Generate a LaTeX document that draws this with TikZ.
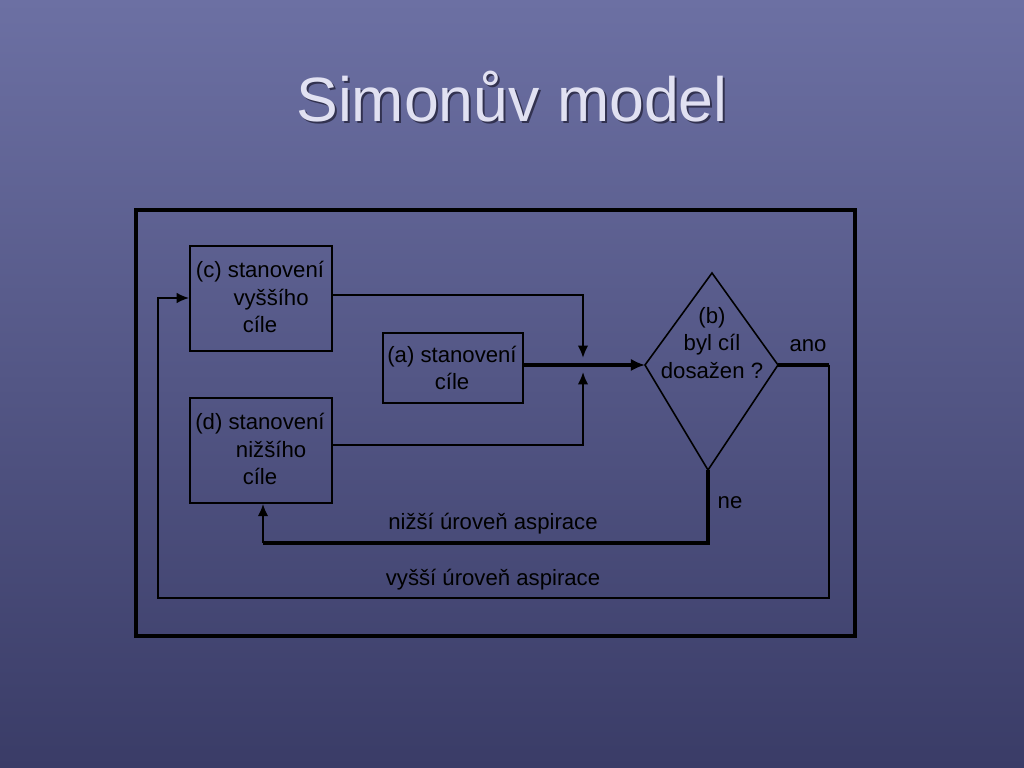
\documentclass[tikz,border=0pt]{standalone}
\usepackage{fontspec}
\setmainfont{Liberation Sans}
\usetikzlibrary{shapes.geometric,arrows.meta}
\begin{document}
\begin{tikzpicture}[x=0.01cm,y=-0.01cm,
  lbl/.style={font=\fontsize{6.3pt}{7.8pt}\selectfont,text=black,align=center,inner sep=0},
  box/.style={draw=black,line width=0.5pt},
  ln/.style={draw=black,line width=0.6pt},
  arr/.style={ln,-{Latex[length=3.5pt,width=3pt]}}]
\shade[top color={rgb,255:red,108;green,112;blue,163},bottom color={rgb,255:red,58;green,60;blue,103}] (0,0) rectangle (1024,768);
\useasboundingbox (0,0) rectangle (1024,768);
\node[text={rgb,255:red,50;green,50;blue,80},font=\fontsize{17.8pt}{20pt}\selectfont] at (514,99) {Simonův model};
\node[text={rgb,255:red,225;green,225;blue,242},font=\fontsize{17.8pt}{20pt}\selectfont] (title) at (512,97) {Simonův model};
\draw[black,line width=0.9pt] (136,210) rectangle (855,636);
\node[box,anchor=north west,minimum width=1.42cm,minimum height=1.05cm] (c) at (189,245) {};
\node[lbl] at (260,297) {(c) stanovení\\ \quad vyššího\\ cíle};
\node[box,anchor=north west,minimum width=1.40cm,minimum height=0.70cm] (a) at (382,332) {};
\node[lbl] at (452,368) {(a) stanovení\\ cíle};
\node[box,anchor=north west,minimum width=1.42cm,minimum height=1.05cm] (d) at (189,397) {};
\node[lbl] at (260,449) {(d) stanovení\\ \quad nižšího\\ cíle};
\coordinate (bl) at (645,365); \coordinate (br) at (778,365);
\coordinate (bt) at (712,273); \coordinate (bb) at (708,470);
\draw[black,line width=0.45pt] (bl)--(bt)--(br)--(bb)--cycle;
\node[lbl] (b) at (712,343) {(b)\\ byl cíl\\ dosažen ?};
\coordinate (j1) at (583,295); \coordinate (j2) at (583,445);
\draw[arr] (c.east|-j1) -- (j1) -- (583,358);
\draw[arr] (d.east|-j2) -- (j2) -- (583,372);
\draw[ln,line width=1.1pt,-{Latex[length=4pt,width=3.5pt]}] (a.east|-bl) -- (bl);
\draw[ln,line width=1.1pt] (br) -- (829,365);
\draw[arr,line width=0.5pt] (829,365) -- (829,598) -- (158,598) -- (158,298) -- (c.west|-158,298);
\draw[ln,line width=0.9pt] (bb) -- (708,543) -- (263,543);
\draw[arr] (263,543) -- (d.south-|263,0);
\node[lbl] (ano) at (808,346) {ano};
\node[lbl] (ne) at (730,503) {ne};
\node[lbl] (n) at (493,524) {nižší úroveň aspirace};
\node[lbl] (v) at (493,580) {vyšší úroveň aspirace};
\end{tikzpicture}
\end{document}
